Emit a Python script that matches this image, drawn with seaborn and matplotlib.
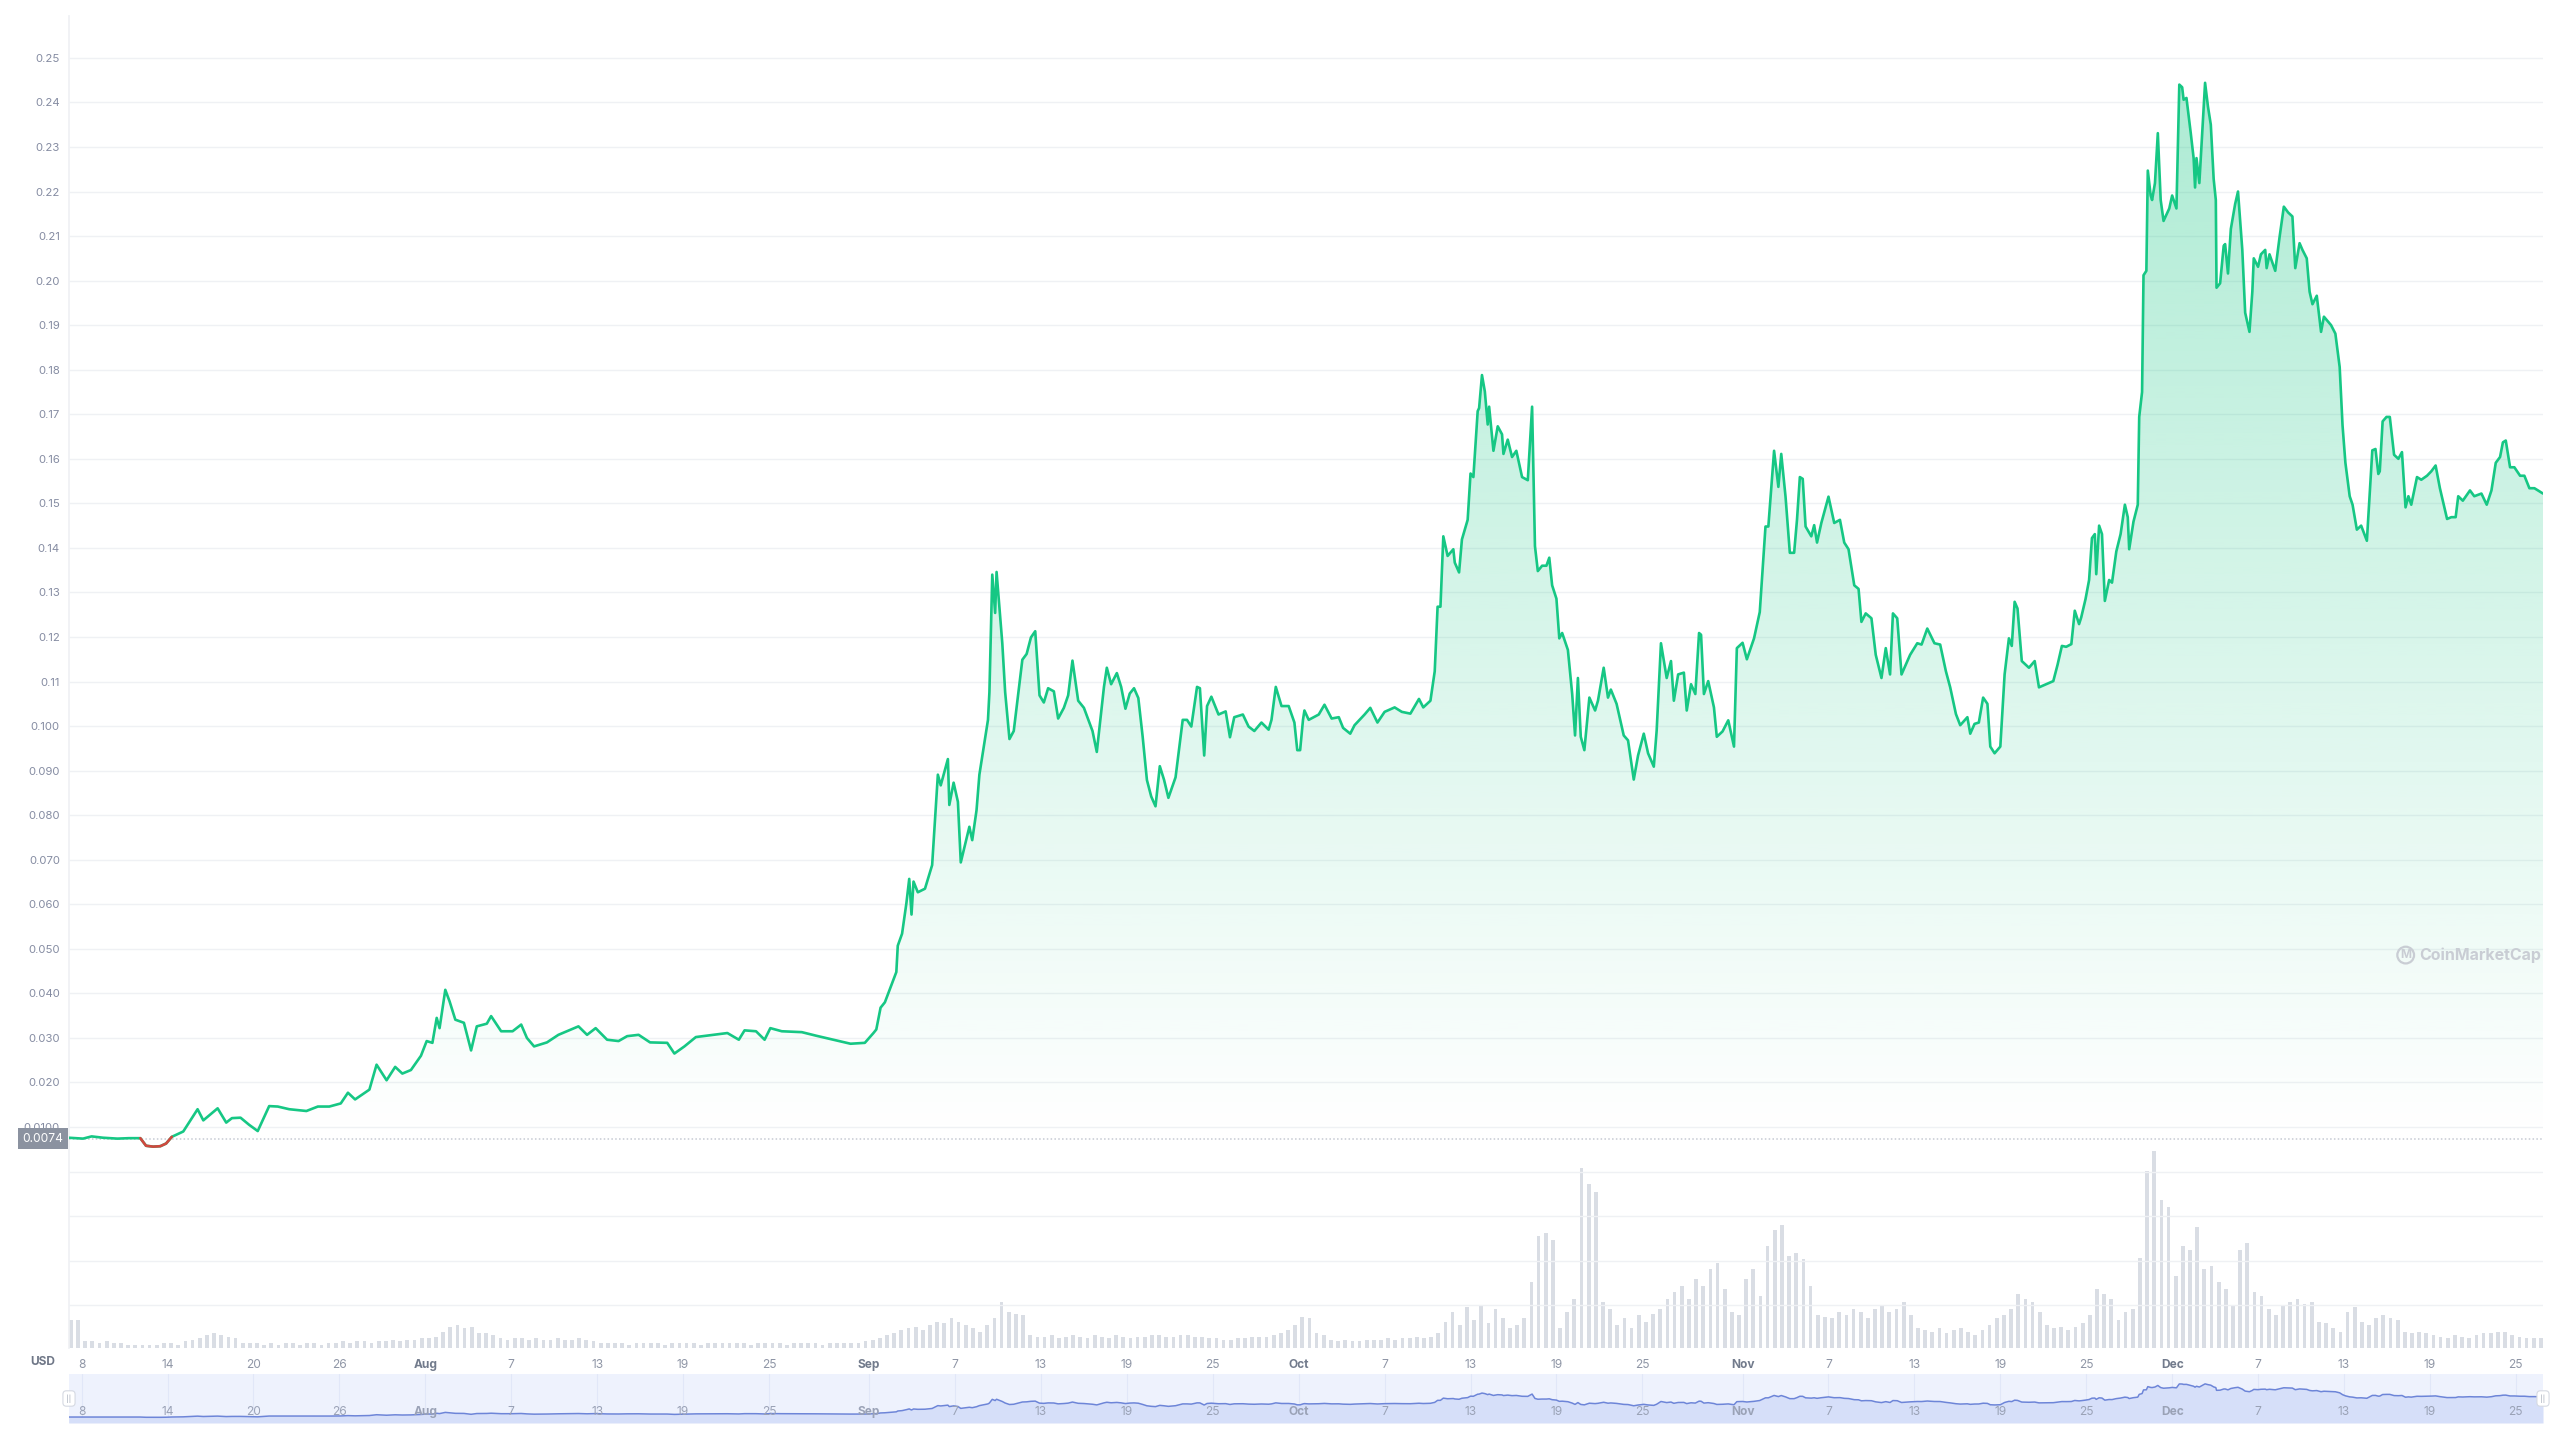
import numpy as np
import pandas as pd
import matplotlib
matplotlib.use("Agg")
import matplotlib.pyplot as plt
import matplotlib.dates as mdates
import matplotlib.colors as mcolors
import matplotlib.transforms as mtransforms
import seaborn as sns

# --- data (days counted from 2021-07-07 00:00) ---
start = pd.Timestamp("2021-07-07")
open_price = 0.0074

day_jul_aug = [
    0.1, 0.6, 1.1, 1.7, 2.5, 3.5, 4.3, 5.1, 5.5, 6.0, 6.5, 6.9, 7.3, 8.1,
    9.1, 9.5, 10.5, 11.1, 11.5, 12.1, 12.7, 13.3, 14.1, 14.7, 15.5, 16.7, 17.5, 18.3,
    19.1, 19.6, 20.1, 21.1, 21.6, 22.3, 22.9, 23.4, 24.0, 24.7, 25.1, 25.5, 25.8, 26.0,
    26.4, 26.7, 27.1, 27.7, 28.2, 28.6, 29.3, 29.6, 30.3, 31.1, 31.7, 32.1, 32.6, 33.5,
    34.3, 35.7, 36.3, 36.9, 37.7, 38.5, 39.1, 39.9, 40.7, 41.9, 42.4, 43.1, 43.9, 45.1,
    46.1, 46.9, 47.3, 48.1, 48.7, 49.1, 49.9, 51.3, 52.3, 53.5, 54.7, 55.7, 56.3,
]
px_jul_aug = [
    0.0076, 0.0075, 0.0074, 0.0079, 0.0076, 0.0074, 0.0075, 0.0075, 0.0058, 0.0056, 0.0057, 0.0063, 0.0078, 0.0090,
    0.0140, 0.0115, 0.0142, 0.0110, 0.0120, 0.0121, 0.0105, 0.0091, 0.0147, 0.0146, 0.0140, 0.0136, 0.0146, 0.0146,
    0.0153, 0.0177, 0.0162, 0.0184, 0.0240, 0.0205, 0.0235, 0.0220, 0.0228, 0.0260, 0.0293, 0.0289, 0.0345, 0.0322,
    0.0408, 0.0382, 0.0341, 0.0334, 0.0272, 0.0326, 0.0332, 0.0349, 0.0315, 0.0315, 0.0330, 0.0300, 0.0281, 0.0290,
    0.0307, 0.0326, 0.0307, 0.0322, 0.0296, 0.0293, 0.0304, 0.0307, 0.0290, 0.0289, 0.0265, 0.0281, 0.0302, 0.0307,
    0.0311, 0.0296, 0.0317, 0.0315, 0.0296, 0.0322, 0.0315, 0.0313, 0.0305, 0.0296, 0.0287, 0.0289, 0.0311,
]

day_sep = [
    56.5, 56.8, 57.1, 57.9, 58.0, 58.3, 58.6, 58.8, 58.96, 59.1, 59.4, 59.9, 60.4, 60.8,
    61.0, 61.5, 61.6, 61.9, 62.2, 62.4, 63.0, 63.2, 63.5, 63.7, 64.3, 64.4, 64.6, 64.8,
    64.9, 65.3, 65.5, 65.8, 66.1, 66.7, 67.0, 67.3, 67.6, 67.9, 68.2, 68.5, 68.9, 69.2,
    69.6, 69.9, 70.2, 70.6, 71.0, 71.6, 71.9, 72.4, 72.6, 72.9, 73.3, 73.6, 73.9, 74.2,
    74.5, 74.8, 75.1, 75.4, 75.7, 76.0, 76.3, 76.6, 76.9, 77.4, 77.9, 78.2, 78.5, 78.9,
    79.1, 79.4, 79.6, 79.9, 80.4, 80.9, 81.2, 81.5, 82.1, 82.5, 82.9, 83.4, 83.9, 84.1,
    84.4, 84.8, 85.3, 85.7, 85.9, 86.1, 86.3, 86.4, 86.7, 87.4, 87.8, 88.3, 88.8, 89.1,
    89.6, 89.9, 90.6, 91.0, 91.5,
]
px_sep = [
    0.0319, 0.0368, 0.0380, 0.0448, 0.0507, 0.0534, 0.0602, 0.0657, 0.0577, 0.0651, 0.0627, 0.0635, 0.0688, 0.0891,
    0.0867, 0.0926, 0.0823, 0.0873, 0.0830, 0.0694, 0.0774, 0.0744, 0.0811, 0.0891, 0.1014, 0.1076, 0.1340, 0.1254,
    0.1346, 0.1186, 0.1076, 0.0971, 0.0989, 0.1149, 0.1162, 0.1199, 0.1213, 0.1069, 0.1053, 0.1085, 0.1078, 0.1017,
    0.1041, 0.1069, 0.1147, 0.1057, 0.1041, 0.0989, 0.0942, 0.1088, 0.1131, 0.1094, 0.1119, 0.1088, 0.1039, 0.1073,
    0.1085, 0.1063, 0.0977, 0.0879, 0.0842, 0.0820, 0.0910, 0.0879, 0.0839, 0.0885, 0.1014, 0.1014, 0.0999, 0.1088,
    0.1085, 0.0934, 0.1045, 0.1066, 0.1026, 0.1033, 0.0975, 0.1020, 0.1026, 0.0999, 0.0989, 0.1008, 0.0992, 0.1014,
    0.1088, 0.1045, 0.1045, 0.1008, 0.0946, 0.0946, 0.1014, 0.1035, 0.1014, 0.1026, 0.1048, 0.1017, 0.1020, 0.0996,
    0.0983, 0.1002, 0.1026, 0.1041, 0.1008,
]

day_oct_nov = [
    92.0, 92.7, 93.2, 93.8, 94.4, 94.7, 95.2, 95.5, 95.7, 95.9, 96.1, 96.4, 96.8, 96.9,
    97.2, 97.4, 97.8, 98.0, 98.2, 98.5, 98.6, 98.8, 99.0, 99.2, 99.3, 99.6, 99.9, 100.2,
    100.3, 100.6, 100.9, 101.2, 101.6, 102.0, 102.3, 102.5, 102.7, 103.0, 103.3, 103.5, 103.7, 104.0,
    104.2, 104.4, 104.8, 105.1, 105.3, 105.5, 105.7, 105.95, 106.3, 106.7, 106.9, 107.3, 107.6, 107.8,
    108.2, 108.7, 109.0, 109.4, 109.7, 110.1, 110.4, 110.8, 111.0, 111.3, 111.7, 112.0, 112.2, 112.5,
    112.9, 113.1, 113.4, 113.7, 113.96, 114.1, 114.3, 114.6, 115.0, 115.2, 115.6, 116.0, 116.4, 116.6,
    117.0, 117.3, 117.8, 118.2, 118.6, 118.8, 119.2, 119.5, 119.7, 120.0, 120.3, 120.6, 120.8, 121.0,
    121.2, 121.4, 121.8, 122.0, 122.2, 122.5, 123.0, 123.4, 123.8, 124.1, 124.4, 124.8, 125.1, 125.3,
    125.6, 126.0, 126.3, 126.7, 127.0, 127.3, 127.5, 127.8, 128.1, 128.4, 128.7, 129.2, 129.5, 129.9,
    130.4, 130.8, 131.2, 131.5, 131.9, 132.2, 132.7, 132.9, 133.2, 133.5, 133.8, 134.1, 134.3, 134.6,
    135.0, 135.3, 135.6, 135.8, 136.0, 136.2, 136.5, 137.0, 137.4, 137.7, 138.2, 138.7, 139.0, 139.3,
]
px_oct_nov = [
    0.1032, 0.1042, 0.1032, 0.1028, 0.1061, 0.1042, 0.1057, 0.1123, 0.1268, 0.1268, 0.1426, 0.1382, 0.1397, 0.1367,
    0.1345, 0.1419, 0.1463, 0.1567, 0.1559, 0.1707, 0.1714, 0.1788, 0.1751, 0.1677, 0.1717, 0.1618, 0.1673, 0.1655,
    0.1611, 0.1643, 0.1604, 0.1618, 0.1559, 0.1552, 0.1717, 0.1404, 0.1348, 0.1360, 0.1360, 0.1378, 0.1316, 0.1286,
    0.1197, 0.1209, 0.1171, 0.1072, 0.0979, 0.1108, 0.0976, 0.0946, 0.1064, 0.1035, 0.1057, 0.1131, 0.1064, 0.1082,
    0.1050, 0.0979, 0.0968, 0.0880, 0.0934, 0.0983, 0.0939, 0.0909, 0.0990, 0.1186, 0.1108, 0.1146, 0.1057, 0.1116,
    0.1120, 0.1035, 0.1094, 0.1072, 0.1209, 0.1205, 0.1072, 0.1101, 0.1042, 0.0976, 0.0988, 0.1013, 0.0954, 0.1175,
    0.1187, 0.1150, 0.1197, 0.1256, 0.1448, 0.1448, 0.1618, 0.1537, 0.1611, 0.1515, 0.1389, 0.1389, 0.1463, 0.1559,
    0.1555, 0.1448, 0.1426, 0.1451, 0.1412, 0.1456, 0.1515, 0.1456, 0.1463, 0.1412, 0.1397, 0.1316, 0.1308, 0.1234,
    0.1253, 0.1242, 0.1160, 0.1108, 0.1175, 0.1116, 0.1253, 0.1242, 0.1116, 0.1138, 0.1160, 0.1186, 0.1183, 0.1219,
    0.1186, 0.1183, 0.1123, 0.1087, 0.1027, 0.1002, 0.1020, 0.0983, 0.1005, 0.1008, 0.1064, 0.1050, 0.0954, 0.0939,
    0.0954, 0.1116, 0.1197, 0.1180, 0.1279, 0.1264, 0.1146, 0.1131, 0.1146, 0.1087, 0.1094, 0.1101, 0.1138, 0.1180,
]

day_dec = [
    139.6, 139.96, 140.2, 140.5, 140.65, 140.95, 141.2, 141.4, 141.6, 141.7, 141.9, 142.1, 142.3, 142.6,
    142.8, 143.1, 143.4, 143.7, 143.9, 144.0, 144.3, 144.6, 144.7, 144.9, 145.0, 145.2, 145.3, 145.5,
    145.6, 145.8, 146.0, 146.2, 146.4, 146.8, 147.0, 147.3, 147.5, 147.7, 147.8, 148.0, 148.3, 148.5,
    148.6, 148.7, 148.9, 149.1, 149.3, 149.5, 149.7, 149.9, 150.05, 150.1, 150.35, 150.6, 150.7, 150.9,
    151.1, 151.4, 151.6, 151.9, 152.1, 152.4, 152.6, 152.7, 153.0, 153.2, 153.5, 153.6, 153.8, 154.2,
    154.5, 154.8, 155.1, 155.4, 155.6, 155.9, 156.1, 156.4, 156.6, 156.8, 157.1, 157.4, 157.6, 158.1,
    158.4, 158.7, 158.9, 159.1, 159.4, 159.6, 159.9, 160.2, 160.6, 160.98, 161.2, 161.4, 161.5, 161.7,
    161.97, 162.2, 162.5, 162.8, 163.05, 163.3, 163.5, 163.7, 164.1, 164.4, 164.8, 165.1, 165.4, 165.7,
    166.2, 166.5, 166.8, 166.98, 167.3, 167.8, 168.1, 168.6, 168.97, 169.3, 169.6, 169.9, 170.1, 170.3,
    170.6, 170.9, 171.3, 171.6, 171.95, 172.3, 172.75, 172.9,
]
px_dec = [
    0.1178, 0.1184, 0.1259, 0.1229, 0.1244, 0.1285, 0.1328, 0.1422, 0.1431, 0.1341, 0.1450, 0.1431, 0.1281, 0.1328,
    0.1322, 0.1392, 0.1431, 0.1497, 0.1469, 0.1397, 0.1459, 0.1497, 0.1694, 0.1750, 0.2012, 0.2022, 0.2247, 0.2191,
    0.2181, 0.2219, 0.2331, 0.2181, 0.2134, 0.2162, 0.2191, 0.2162, 0.2440, 0.2434, 0.2406, 0.2410, 0.2331, 0.2275,
    0.2209, 0.2275, 0.2219, 0.2331, 0.2444, 0.2391, 0.2350, 0.2228, 0.2181, 0.1984, 0.1994, 0.2078, 0.2082, 0.2016,
    0.2116, 0.2172, 0.2200, 0.2069, 0.1928, 0.1885, 0.1975, 0.2050, 0.2031, 0.2059, 0.2069, 0.2028, 0.2059, 0.2022,
    0.2097, 0.2166, 0.2153, 0.2144, 0.2028, 0.2084, 0.2069, 0.2050, 0.1975, 0.1947, 0.1966, 0.1885, 0.1919, 0.1900,
    0.1881, 0.1806, 0.1675, 0.1591, 0.1516, 0.1497, 0.1441, 0.1450, 0.1416, 0.1619, 0.1622, 0.1566, 0.1572, 0.1684,
    0.1694, 0.1694, 0.1609, 0.1600, 0.1615, 0.1491, 0.1516, 0.1497, 0.1559, 0.1553, 0.1562, 0.1572, 0.1585, 0.1534,
    0.1465, 0.1469, 0.1469, 0.1516, 0.1506, 0.1529, 0.1516, 0.1522, 0.1497, 0.1529, 0.1591, 0.1604, 0.1637, 0.1641,
    0.1581, 0.1581, 0.1562, 0.1562, 0.1534, 0.1534, 0.1525, 0.1522,
]

# 12-hourly volume (relative units), two values per day from Jul 7
volume = [
    17, 17, 4, 4, 3, 4, 3, 3, 2, 2, 2, 2, 2, 3, 3, 2, 4, 5, 6, 8,
    9, 8, 7, 6, 3, 3, 3, 2, 3, 2, 3, 3, 2, 3, 3, 2, 3, 3, 4, 3,
    4, 4, 3, 4, 4, 5, 4, 5, 5, 6, 6, 7, 10, 13, 14, 12, 13, 9, 9, 8,
    6, 5, 6, 6, 5, 6, 5, 5, 6, 5, 5, 6, 5, 4, 3, 3, 3, 3, 2, 3,
    3, 3, 3, 2, 3, 3, 3, 3, 2, 3, 3, 3, 3, 3, 3, 2, 3, 3, 3, 3,
    2, 3, 3, 3, 3, 2, 3, 3, 3, 3, 3, 4, 5, 6, 8, 9, 11, 12, 13, 11,
    14, 16, 15, 18, 16, 14, 12, 10, 14, 18, 28, 22, 21, 20, 8, 7, 7, 8, 6, 7,
    8, 7, 6, 8, 7, 6, 8, 7, 6, 7, 7, 8, 8, 7, 7, 8, 8, 7, 7, 6,
    6, 5, 5, 6, 6, 7, 7, 7, 8, 9, 11, 14, 19, 18, 9, 8, 5, 4, 5, 4,
    4, 5, 5, 5, 6, 5, 6, 6, 7, 6, 7, 9, 16, 22, 14, 25, 17, 26, 15, 24,
    18, 12, 14, 18, 40, 68, 70, 66, 12, 22, 30, 110, 100, 95, 28, 24, 14, 18, 12, 20,
    16, 21, 24, 30, 34, 38, 30, 42, 38, 48, 52, 36, 22, 20, 42, 48, 32, 62, 72, 75,
    56, 58, 54, 38, 20, 19, 18, 22, 20, 24, 22, 18, 24, 26, 22, 24, 28, 20, 12, 11,
    10, 12, 9, 11, 12, 10, 8, 11, 14, 18, 20, 24, 33, 30, 28, 22, 14, 12, 13, 11,
    13, 15, 20, 36, 33, 30, 17, 22, 24, 55, 108, 120, 90, 86, 44, 62, 60, 74, 48, 50,
    40, 36, 26, 60, 64, 34, 32, 24, 20, 26, 28, 30, 27, 28, 16, 15, 12, 10, 22, 25,
    16, 14, 18, 20, 18, 17, 10, 9, 10, 9, 8, 7, 6, 8, 7, 6, 8, 9, 9, 10,
    10, 8, 7, 6, 6, 6,
]

y_ticks = np.round(np.arange(-0.03, 0.2501, 0.01), 2)
y_tick_labels = ["", "", "", "", "0.0100", "0.020", "0.030", "0.040", "0.050", "0.060",
                 "0.070", "0.080", "0.090", "0.100", "0.11", "0.12", "0.13", "0.14", "0.15",
                 "0.16", "0.17", "0.18", "0.19", "0.20", "0.21", "0.22", "0.23", "0.24", "0.25"]

x_tick_dates = ["2021-07-08", "2021-07-14", "2021-07-20", "2021-07-26", "2021-08-01", "2021-08-07",
                "2021-08-13", "2021-08-19", "2021-08-25", "2021-09-01", "2021-09-07", "2021-09-13",
                "2021-09-19", "2021-09-25", "2021-10-01", "2021-10-07", "2021-10-13", "2021-10-19",
                "2021-10-25", "2021-11-01", "2021-11-07", "2021-11-13", "2021-11-19", "2021-11-25",
                "2021-12-01", "2021-12-07", "2021-12-13", "2021-12-19", "2021-12-25"]
x_tick_labels = ["8", "14", "20", "26", "Aug", "7", "13", "19", "25", "Sep", "7", "13", "19", "25",
                 "Oct", "7", "13", "19", "25", "Nov", "7", "13", "19", "25", "Dec", "7", "13", "19", "25"]

GREEN = "#16c784"
RED = "#d0483e"
GRID = "#eff1f4"
LABEL = "#858ca2"

price_day = day_jul_aug + day_sep + day_oct_nov + day_dec
price = np.array(px_jul_aug + px_sep + px_oct_nov + px_dec)
price_dates = start + pd.to_timedelta(price_day, unit="D")
vol_dates = pd.date_range(start + pd.Timedelta(hours=6), periods=len(volume), freq="12h")
tick_pos = mdates.date2num(pd.to_datetime(x_tick_dates))

df = pd.DataFrame({"date": price_dates, "price": price})

sns.set_theme(style="white")
plt.rcParams["font.family"] = ["Inter", "DejaVu Sans"]

W, H = 2560, 1440
fig = plt.figure(figsize=(25.6, 14.4), dpi=100)
fig.patch.set_facecolor("white")
rect = [69 / W, 1 - 1348 / H, (2543 - 69) / W, (1348 - 16) / H]
ax_vol = fig.add_axes(rect)
ax = fig.add_axes(rect, sharex=ax_vol)
ax.patch.set_alpha(0)

x0 = mdates.date2num(start + pd.Timedelta(days=0.12))
x1 = mdates.date2num(start + pd.Timedelta(days=172.9))

# volume bars
ax_vol.bar(vol_dates, volume, width=0.26, color="#d9dde4", linewidth=0)
ax_vol.set_ylim(0, 812)
ax_vol.axis("off")

# price fill with vertical gradient
xnum = mdates.date2num(price_dates)
poly = ax.fill_between(xnum, price, open_price, color="none", linewidth=0)
clip = poly.get_paths()[0]
grad = np.zeros((256, 1, 4))
grad[..., :3] = mcolors.to_rgb(GREEN)
grad[:, 0, 3] = np.linspace(0.36, 0.0, 256)
im = ax.imshow(grad, extent=[xnum[0], xnum[-1], open_price, 0.25], aspect="auto",
               origin="upper", zorder=2, interpolation="bilinear")
im.set_clip_path(clip, transform=ax.transData)

# price line, red where it drops below the opening price
sns.lineplot(data=df, x="date", y="price", ax=ax, color=GREEN, linewidth=1.9, zorder=4,
             estimator=None, sort=False)
below = price < open_price
red_mask = below | np.roll(below, 1) | np.roll(below, -1)
sns.lineplot(data=df[red_mask], x="date", y="price", ax=ax, color=RED, linewidth=1.9,
             zorder=5, estimator=None, sort=False)

ax.axhline(open_price, color="#c6cad3", lw=1.1, ls=(0, (1, 1.5)), zorder=3)

ax.set_xlim(x0, x1)
ax.set_ylim(-0.0396, 0.2594)
ax.set_yticks(y_ticks)
ax.set_yticklabels(y_tick_labels)
ax.set_xticks(tick_pos)
ax.set_xticklabels(x_tick_labels)
ax.grid(axis="y", color=GRID, lw=1)
ax.grid(axis="x", visible=False)
ax.set_xlabel("")
ax.set_ylabel("")
for s in ["top", "right", "bottom"]:
    ax.spines[s].set_visible(False)
ax.spines["left"].set_color(GRID)
ax.tick_params(axis="y", length=0, pad=6.5, labelsize=8.2, labelcolor=LABEL)
ax.tick_params(axis="x", length=3, width=0.8, color="#cfd3db", pad=5, labelsize=8.6,
               labelcolor="#8f96a6")
for t in ax.get_xticklabels():
    if t.get_text().isalpha():
        t.set_fontweight("bold")
        t.set_color("#727b8c")

# opening price badge
ax.annotate("0.0074", xy=(0, open_price), xycoords=("axes fraction", "data"),
            xytext=(-4, 0), textcoords="offset points", ha="right", va="center",
            fontsize=8.6, color="white", zorder=10, annotation_clip=False,
            bbox=dict(boxstyle="square,pad=0.35", fc="#8b92a0", ec="none"))

fig.text(43 / W, 1 - 1362 / H, "USD", ha="center", va="center", fontsize=8.6,
         fontweight="bold", color="#6f7787")

# watermark
wm = mtransforms.blended_transform_factory(ax.transAxes, ax.transData)
ax.text(0.9445, 0.0486, "M", transform=wm, ha="center", va="center", fontsize=8.5,
        fontweight="bold", color="#c9cdd4", zorder=6,
        bbox=dict(boxstyle="circle,pad=0.2", fc="none", ec="#c9cdd4", lw=1.6))
ax.text(0.9745, 0.0486, "CoinMarketCap", transform=wm, ha="center", va="center",
        fontsize=11.5, fontweight="bold", color="#c9cdd4", zorder=6)

# navigator strip
ax_nav = fig.add_axes([69 / W, 1 - 1423 / H, (2543 - 69) / W, 49 / H])
ax_nav.set_facecolor("#eef2fd")
for p in tick_pos:
    ax_nav.axvline(p, color="#e1e7f8", lw=0.8, zorder=0.5)
ax_nav.fill_between(xnum, price, -0.035, color="#d6dff9", linewidth=0, zorder=1)
sns.lineplot(data=df, x="date", y="price", ax=ax_nav, color="#6d85d8", linewidth=1.1,
             zorder=2, estimator=None, sort=False)
ax_nav.set_xlim(x0, x1)
ax_nav.set_ylim(-0.035, 0.315)
ax_nav.set_xticks([])
ax_nav.set_yticks([])
ax_nav.set_xlabel("")
ax_nav.set_ylabel("")
for s in ax_nav.spines.values():
    s.set_visible(False)
nav_tr = mtransforms.blended_transform_factory(ax_nav.transData, ax_nav.transAxes)
for p, lab in zip(tick_pos, x_tick_labels):
    ax_nav.text(p, 0.22, lab, transform=nav_tr, ha="center", va="center", fontsize=8.6,
                color="#9aa2b6", fontweight="bold" if lab.isalpha() else "normal", zorder=3)
for xa in (0, 1):
    ax_nav.text(xa, 0.5, "||", transform=ax_nav.transAxes, ha="center", va="center",
                fontsize=5.5, color="#a5acba", zorder=5, clip_on=False,
                bbox=dict(boxstyle="round,pad=0.45", fc="white", ec="#d5d9e2", lw=0.8))

fig.savefig("out.png", dpi=100, facecolor="white")
